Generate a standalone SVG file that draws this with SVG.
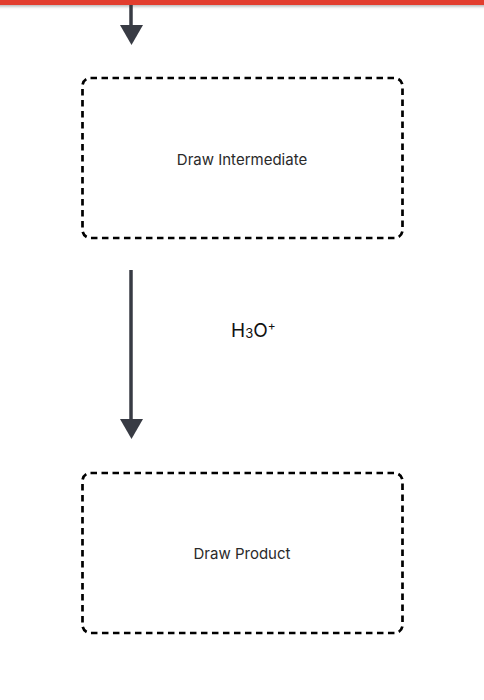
<svg xmlns="http://www.w3.org/2000/svg" width="484" height="700" viewBox="0 0 484 700">
  <defs>
    <filter id="shadow" x="-5%" y="-100%" width="110%" height="400%">
      <feDropShadow dx="0" dy="1.5" stdDeviation="1.5" flood-color="#000" flood-opacity="0.3"/>
    </filter>
    <style>
      .box { fill: none; stroke: #000; stroke-width: 2.7; stroke-dasharray: 6.5 4.5; }
      .label { font-family: Inter, "Noto Sans", "Liberation Sans", sans-serif; font-size: 15px; fill: #2a2a2a; text-anchor: middle; }
      .conn { stroke: #383b44; stroke-width: 3.5; fill: none; }
      .head { fill: #383b44; }
      .reagent { font-family: Inter, "Liberation Sans", sans-serif; font-size: 19px; fill: #111; }
    </style>
  </defs>
  <rect width="484" height="700" fill="#fff"/>
  <rect x="-5" y="-3" width="494" height="8" fill="#e23d2f" filter="url(#shadow)"/>

  <g id="connectors">
    <line class="conn" x1="131" y1="5" x2="131" y2="26"/>
    <path class="head" d="M120,25 L143,25 L131.5,45 Z"/>
    <line class="conn" x1="131" y1="270" x2="131" y2="421"/>
    <path class="head" d="M120,419 L143,419 L131.5,439 Z"/>
  </g>

  <g id="reagent">
    <text class="reagent" x="231" y="337">H<tspan font-size="13" dy="1">3</tspan><tspan dy="-1">O</tspan><tspan font-size="12" dy="-7">+</tspan></text>
  </g>

  <g id="intermediate">
    <rect class="box" x="82.5" y="78" width="320" height="160" rx="8"/>
    <text class="label" x="242" y="165">Draw Intermediate</text>
  </g>

  <g id="product">
    <rect class="box" x="82.5" y="473" width="320" height="160" rx="8"/>
    <text class="label" x="242" y="559">Draw Product</text>
  </g>
</svg>
